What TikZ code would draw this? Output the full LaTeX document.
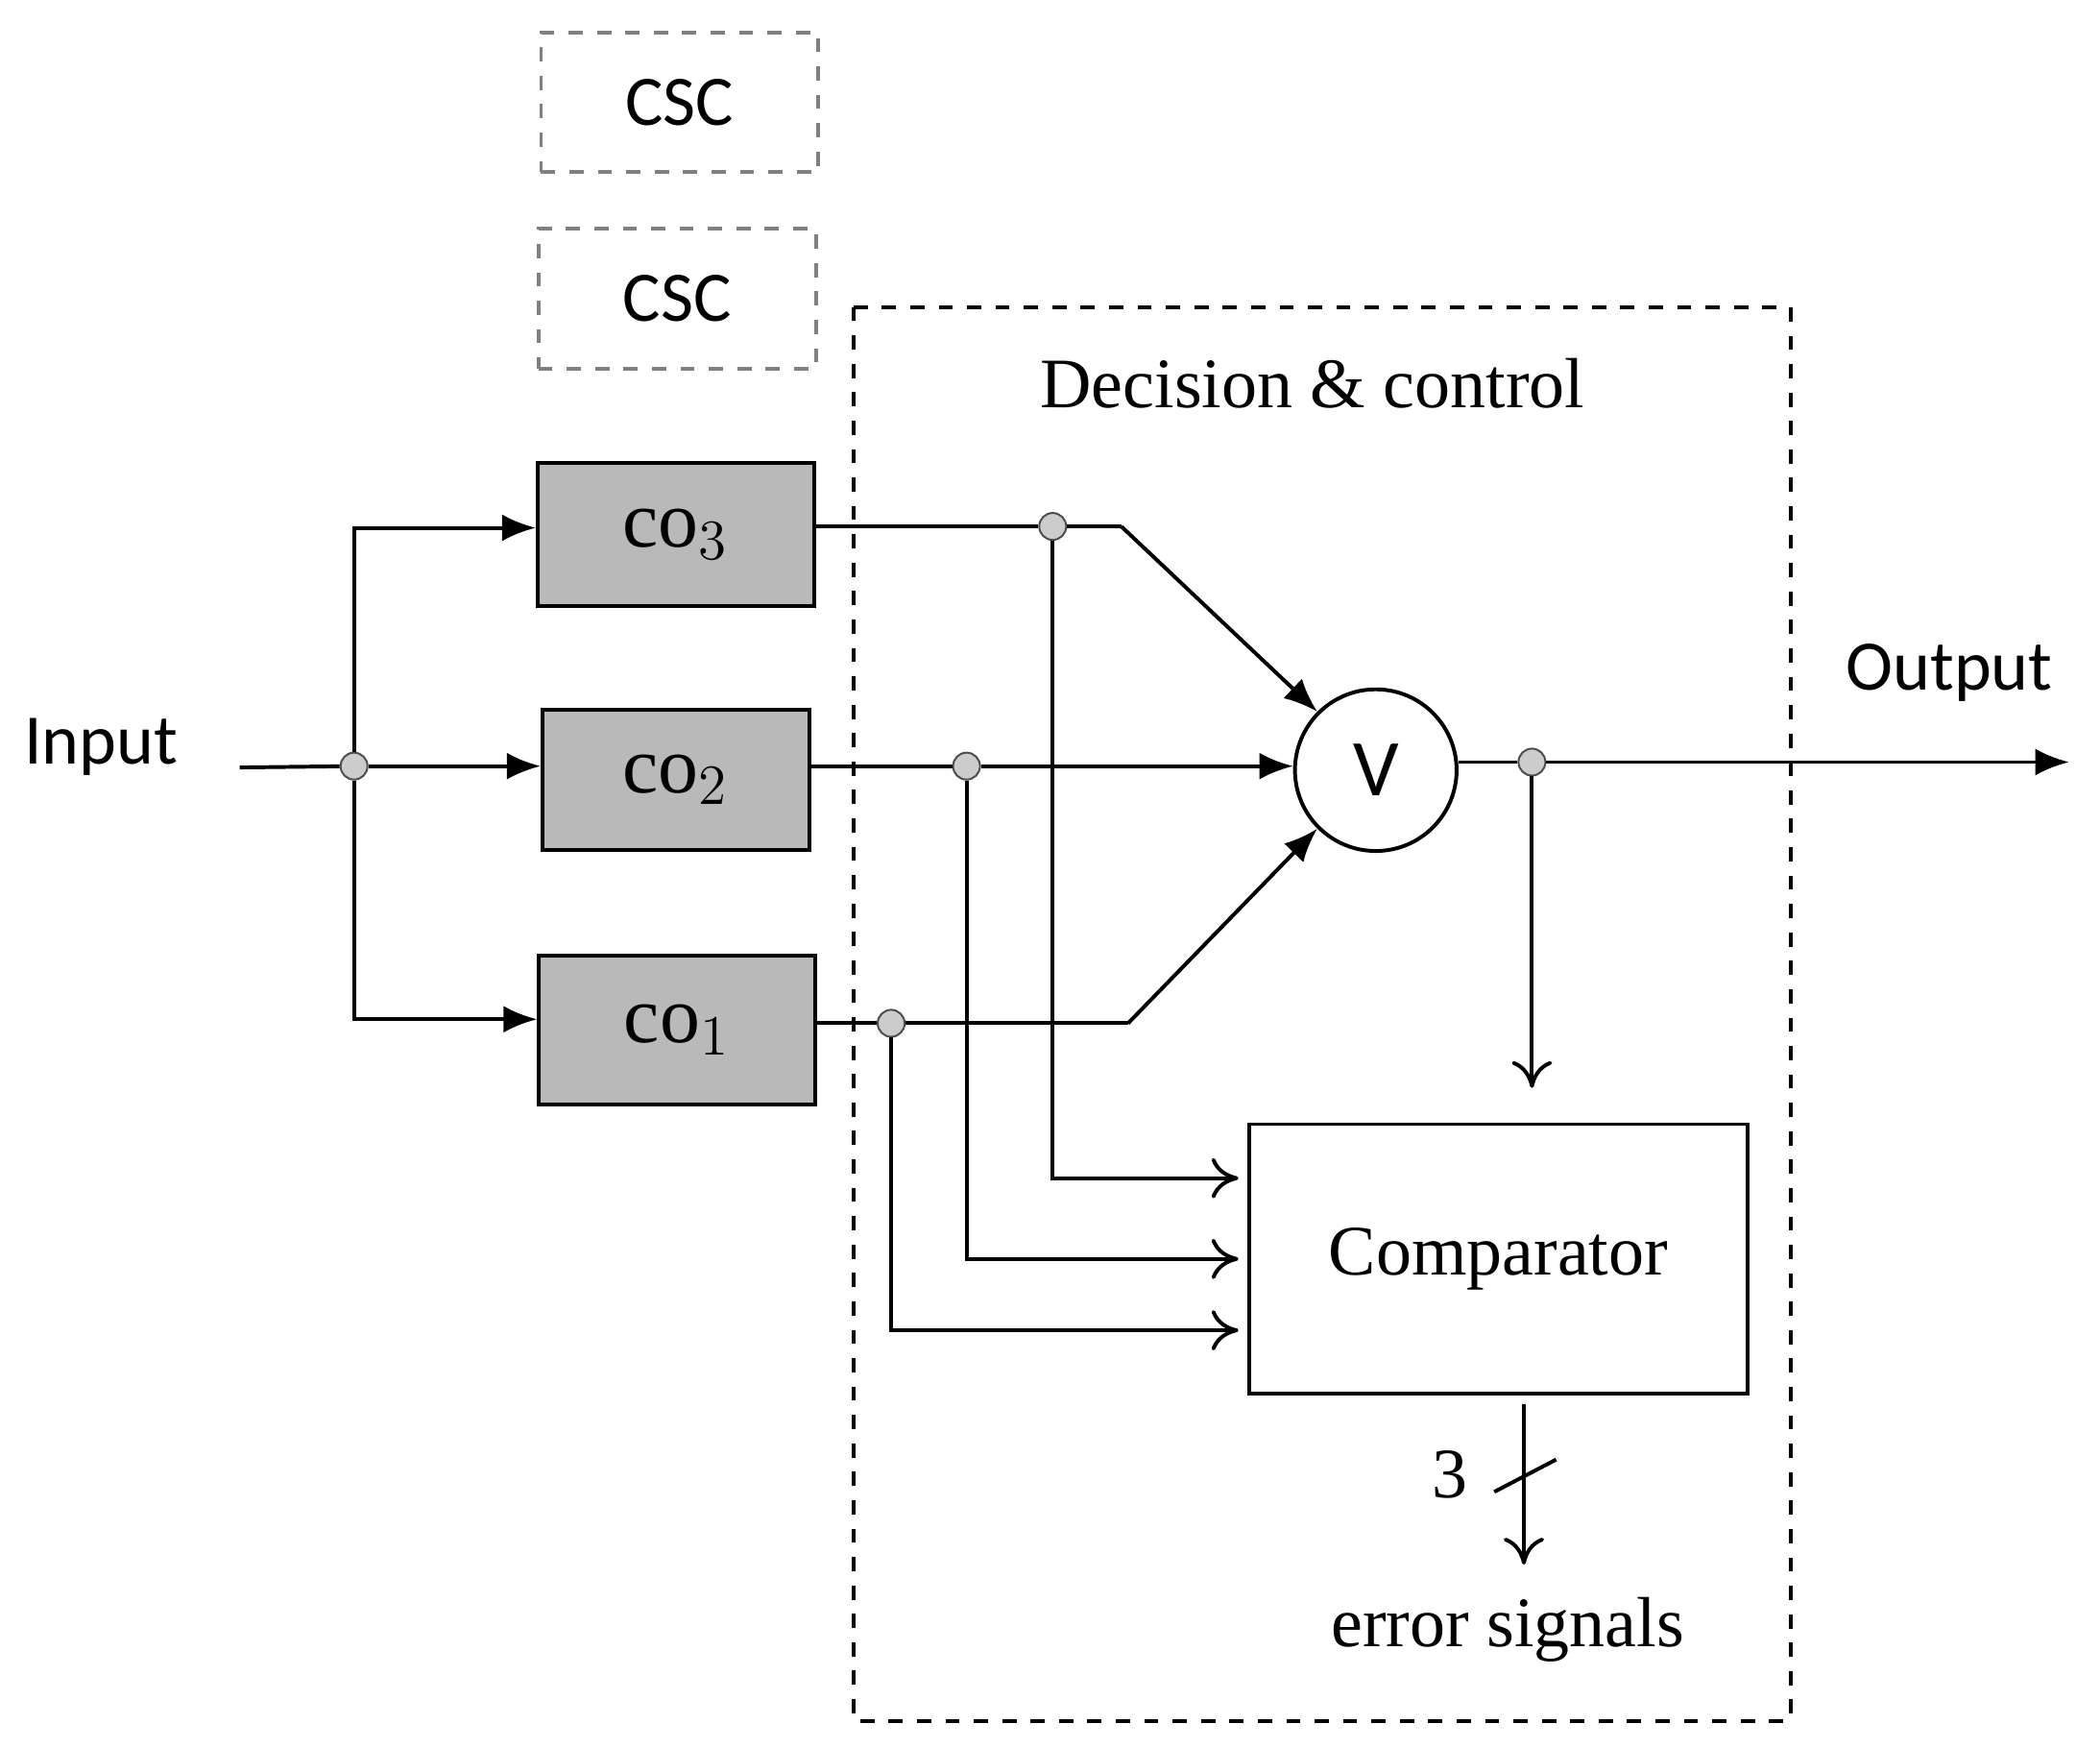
\documentclass[tikz,border=0pt]{standalone}
\usepackage{fontspec}
\setmainfont{Liberation Serif}
\newfontfamily\sansf{Carlito}
\usetikzlibrary{arrows.meta}
\begin{document}
\begin{tikzpicture}[x=0.01cm,y=-0.01cm,
  co/.style={draw,thick,fill=gray!55,minimum width=2.05cm,minimum height=1.06cm,font=\fontsize{17}{17}\selectfont},
  csc/.style={draw=gray,dashed,thick,minimum width=2.06cm,minimum height=1.04cm,font=\sansf\fontsize{15}{15}\selectfont},
  dot/.style={circle,draw=black!70,fill=gray!40,inner sep=0pt,minimum size=0.2cm},
  fa/.style={thick,-{Latex[length=0.25cm,width=0.2cm]}},
  oa/.style={thick,-{To[length=0.2cm,width=0.3cm]}},
  lbl/.style={font=\fontsize{15}{15}\selectfont}]
\useasboundingbox (0,0) rectangle (1560,1298);
\node[csc] (csc1) at (505,76) {CSC};
\node[csc] (csc2) at (503,222) {CSC};
\draw[thick,dashed] (634,228) rectangle (1330,1278);
\node[lbl] (dc) at (975,285) {Decision \& control};
\node[co] (c3) at (502,397) {co$_3$};
\node[co,minimum width=1.98cm,minimum height=1.04cm] (c2) at (502,579) {co$_2$};
\node[co,minimum height=1.11cm] (c1) at (503,765) {co$_1$};
\node[draw,thick,circle,minimum size=1.2cm,inner sep=0pt,font=\sansf\fontsize{17}{17}\selectfont] (v) at (1022,572) {V};
\node[draw,thick,minimum width=3.7cm,minimum height=2cm,lbl] (cmp) at (1113,935) {Comparator};
\node[font=\sansf\fontsize{15}{15}\selectfont] (in) at (75,555) {Input};
\node[font=\sansf\fontsize{15}{15}\selectfont] (out) at (1448,500) {Output};
\node[lbl] (err) at (1120,1210) {error signals};
\coordinate (ins) at (178,570);
\node[dot] (d0) at (263,569) {};
\node[dot] (d3) at (782,391) {};
\node[dot] (d2) at (718,569) {};
\node[dot] (d1) at (662,760) {};
\node[dot] (dout) at (1138,566) {};
\coordinate (oute) at (1537,566);
% input
\draw[thick] (ins) -- (d0);
\draw[fa] (d0) -- (c2.west|-d0);
\draw[fa] (d0) |- (c3.west|-0,392);
\draw[fa] (d0) |- (c1.west|-0,757);
% outputs of co
\draw[thick] (c3.east|-d3) -- (d3) -- (833,391);
\draw[fa] (833,391) -- (v.135);
\draw[thick] (c2.east|-d2) -- (d2);
\draw[fa] (d2) -- (v.west|-d2);
\draw[thick] (c1.east|-d1) -- (d1) -- (838,760);
\draw[fa] (838,760) -- (v.225);
% to comparator
\draw[oa] (d3) |- (920,875);
\draw[oa] (d2) |- (920,935);
\draw[oa] (d1) |- (920,988);
% output
\draw[thick] (v.east|-dout) -- (dout);
\draw[fa] (dout) -- (oute);
\draw[oa] (dout) -- (1138,808);
% error
\coordinate (es) at (1132,1043);
\draw[oa] (es) -- (1132,1162);
\draw[thick] (1110,1108) -- (1156,1084);
\node[lbl] (three) at (1077,1095) {3};
\end{tikzpicture}
\end{document}
